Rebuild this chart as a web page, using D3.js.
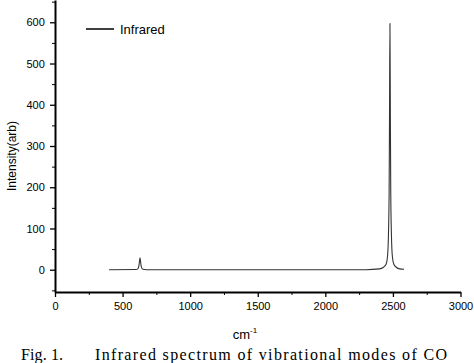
<!DOCTYPE html>
<meta charset="utf-8">
<style>
body { margin: 0; background: #fff; }
text { font-family: "Liberation Sans", Arial, sans-serif; fill: #000; }
.axis path, .axis line { stroke: #000; }
.caption { font-family: "Liberation Serif", "Times New Roman", serif; font-size: 16px; }
</style>
<svg width="474" height="363"></svg>
<script src="https://d3js.org/d3.v7.min.js"></script>
<script>

// spectrum: [wavenumber cm-1, intensity]
var wavenumber = [400, 600, 612, 620, 625, 629, 633, 638, 646, 660, 700,
                  2300, 2400, 2430, 2450, 2460, 2467, 2472, 2475, 2478,
                  2481, 2484, 2489, 2496, 2506, 2525, 2550, 2582];
var intensity  = [0, 0.5, 2, 8, 20, 29, 20, 8, 2, 0.5, 0,
                  0, 2, 6, 14, 32, 85, 190, 380, 597,
                  380, 190, 85, 32, 14, 6, 2, 1];
var xTicks = [0, 500, 1000, 1500, 2000, 2500, 3000];
var yTicks = [0, 100, 200, 300, 400, 500, 600];
var seriesName = "Infrared";

var svg = d3.select("svg");

var x = d3.scaleLinear().domain([0, 3000]).range([55, 460.5]);
var y = d3.scaleLinear().domain([-54, 654]).range([292, 0]);

// minor ticks
svg.append("g")
    .attr("class", "axis")
    .attr("transform", "translate(0," + y(-54) + ")")
    .call(d3.axisBottom(x).tickValues(d3.range(250, 3000, 500)).tickSize(3).tickFormat(""))
    .call(function(g) { g.select(".domain").remove(); });
svg.append("g")
    .attr("class", "axis")
    .attr("transform", "translate(" + x(0) + ",0)")
    .call(d3.axisLeft(y).tickValues(d3.range(-50, 651, 100)).tickSize(3).tickFormat(""))
    .call(function(g) { g.select(".domain").remove(); });

var xAxis = svg.append("g")
    .attr("class", "axis")
    .attr("transform", "translate(0," + y(-54) + ")")
    .call(d3.axisBottom(x).tickValues(xTicks).tickSize(5).tickSizeOuter(0).tickFormat(d3.format("d")));
xAxis.select(".domain").attr("stroke-width", 2);
xAxis.selectAll("line").attr("stroke-width", 1.3);
xAxis.selectAll("text").attr("font-size", 11).attr("dy", "0.9em");

var yAxis = svg.append("g")
    .attr("class", "axis")
    .attr("transform", "translate(" + x(0) + ",0)")
    .call(d3.axisLeft(y).tickValues(yTicks).tickSize(5).tickSizeOuter(0).tickFormat(d3.format("d")));
yAxis.select(".domain").attr("stroke-width", 2);
yAxis.selectAll("line").attr("stroke-width", 1.3);
yAxis.selectAll("text").attr("font-size", 11).attr("dx", "-0.2em");

var line = d3.line()
    .x(function(d, i) { return x(wavenumber[i]); })
    .y(function(d) { return y(d); })
    .curve(d3.curveMonotoneX);

svg.append("path")
    .datum(intensity)
    .attr("fill", "none")
    .attr("stroke", "#333")
    .attr("stroke-width", 1.1)
    .attr("d", line);

// legend
svg.append("line")
    .attr("x1", 86).attr("x2", 114).attr("y1", 29).attr("y2", 29)
    .attr("stroke", "#000").attr("stroke-width", 1.5);
svg.append("text")
    .attr("x", 120).attr("y", 34)
    .attr("font-size", 13)
    .text(seriesName);

// axis titles
svg.append("text")
    .attr("transform", "translate(16,156) rotate(-90)")
    .attr("text-anchor", "middle")
    .attr("font-size", 12)
    .text("Intensity(arb)");

var xt = svg.append("text")
    .attr("x", 245).attr("y", 339)
    .attr("text-anchor", "middle")
    .attr("font-size", 13)
    .text("cm");
xt.append("tspan").attr("dy", -6).attr("font-size", 8).text("-1");

// caption
svg.append("text")
    .attr("class", "caption")
    .attr("x", 21).attr("y", 360)
    .attr("textLength", 42).attr("lengthAdjust", "spacing")
    .text("Fig. 1.");
svg.append("text")
    .attr("class", "caption")
    .attr("x", 95).attr("y", 360)
    .attr("textLength", 352).attr("lengthAdjust", "spacing")
    .text("Infrared spectrum of vibrational modes of CO");

</script>
